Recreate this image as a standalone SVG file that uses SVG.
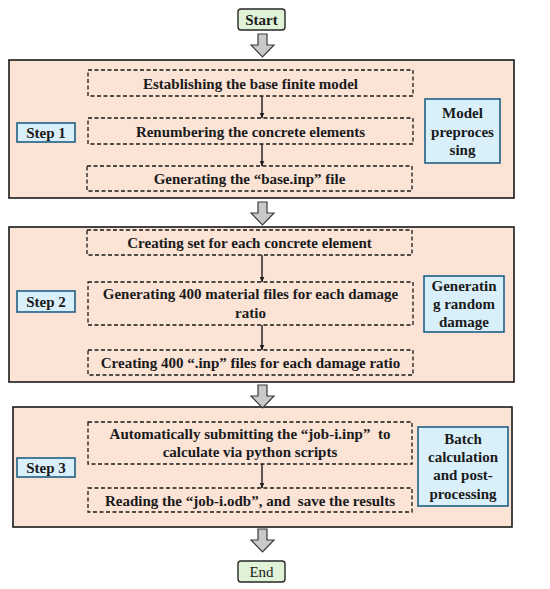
<svg xmlns="http://www.w3.org/2000/svg" width="550" height="589" viewBox="0 0 550 589">
<defs>
<style>
.panel{fill:#fbe3d6;stroke:#1a1a1a;stroke-width:1.6}
.dash{fill:none;stroke:#1a1a1a;stroke-width:1.3;stroke-dasharray:4,2.5}
.lbl{fill:#d9f0fb;stroke:#1f5f86;stroke-width:1.6}
.term{fill:#e0f2d8;stroke:#262626;stroke-width:1.4}
.big{fill:#c9c9c9;stroke:#3a3a3a;stroke-width:1.2}
.t{font-family:"Liberation Serif","Times New Roman",serif;font-weight:bold;font-size:15px;fill:#1a1a1a;text-anchor:middle;white-space:pre}
.tn{font-family:"Liberation Serif","Times New Roman",serif;font-size:15px;fill:#1a1a1a;text-anchor:middle}
.con{stroke:#1a1a1a;stroke-width:1.4;fill:none}
</style>
<marker id="ah" viewBox="0 0 10 10" refX="9" refY="5" markerWidth="6" markerHeight="6" orient="auto" markerUnits="userSpaceOnUse">
<path d="M0,1 L10,5 L0,9 z" fill="#1a1a1a"/>
</marker>
<path id="blk" d="M-4.5,0 L4.5,0 L4.5,11 L11.5,11 L0,23 L-11.5,11 L-4.5,11 z"/>
</defs>
<g id="panel1"><rect class="panel" x="9" y="60" width="505" height="138"/></g>
<g id="panel2"><rect class="panel" x="9" y="227" width="505" height="155"/></g>
<g id="panel3"><rect class="panel" x="13" y="407" width="499" height="120"/></g>

<g id="start"><rect class="term" x="238" y="9" width="47" height="21" rx="3"/><text class="t" x="261.5" y="25">Start</text></g>
<g id="end"><rect class="term" x="238" y="561" width="47" height="21" rx="3"/><text class="tn" x="261.5" y="577">End</text></g>

<g id="connectors">
<use href="#blk" class="big" x="262.5" y="34"/>
<use href="#blk" class="big" x="262.5" y="202"/>
<use href="#blk" class="big" x="262.5" y="385"/>
<use href="#blk" class="big" x="262.5" y="529"/>
<line class="con" x1="262" y1="96" x2="262" y2="118" marker-end="url(#ah)"/>
<line class="con" x1="262" y1="144" x2="262" y2="166" marker-end="url(#ah)"/>
<line class="con" x1="262" y1="255" x2="262" y2="282" marker-end="url(#ah)"/>
<line class="con" x1="262" y1="325" x2="262" y2="350" marker-end="url(#ah)"/>
<line class="con" x1="262" y1="464" x2="262" y2="488" marker-end="url(#ah)"/>
</g>

<g id="s1a"><rect class="dash" x="88" y="70" width="325" height="26"/><text class="t" x="250.5" y="88.5">Establishing the base finite model</text></g>
<g id="s1b"><rect class="dash" x="88" y="118" width="325" height="26"/><text class="t" x="250.5" y="136.5">Renumbering the concrete elements</text></g>
<g id="s1c"><rect class="dash" x="87" y="166" width="325" height="25"/><text class="t" x="249.5" y="184">Generating the “base.inp” file</text></g>
<g id="step1"><rect class="lbl" x="17" y="123" width="58" height="19"/><text class="t" x="46" y="138">Step 1</text></g>
<g id="pre"><rect class="lbl" x="425" y="99" width="75" height="64"/><text class="t" x="462.5" y="118">Model</text><text class="t" x="462.5" y="136.5">preproces</text><text class="t" x="462.5" y="155">sing</text></g>

<g id="s2a"><rect class="dash" x="87" y="230" width="325" height="25"/><text class="t" x="249.5" y="248">Creating set for each concrete element</text></g>
<g id="s2b"><rect class="dash" x="88" y="282" width="325" height="43"/><text class="t" x="250.5" y="299">Generating 400 material files for each damage</text><text class="t" x="250.5" y="318">ratio</text></g>
<g id="s2c"><rect class="dash" x="88" y="350" width="325" height="25"/><text class="t" x="250.5" y="368">Creating 400 “.inp” files for each damage ratio</text></g>
<g id="step2"><rect class="lbl" x="17" y="291" width="58" height="21"/><text class="t" x="46" y="307">Step 2</text></g>
<g id="gen"><rect class="lbl" x="424" y="276" width="80" height="56"/><text class="t" x="464" y="291">Generatin</text><text class="t" x="464" y="309">g random</text><text class="t" x="464" y="327">damage</text></g>

<g id="s3a"><rect class="dash" x="88" y="422" width="324" height="42"/><text class="t" x="250" y="439">Automatically submitting the “job-i.inp”  to</text><text class="t" x="250" y="457">calculate via python scripts</text></g>
<g id="s3b"><rect class="dash" x="88" y="488" width="324" height="24"/><text class="t" x="250" y="506">Reading the “job-i.odb”, and  save the results</text></g>
<g id="step3"><rect class="lbl" x="17" y="458" width="58" height="19"/><text class="t" x="46" y="473">Step 3</text></g>
<g id="batch"><rect class="lbl" x="418" y="427" width="90" height="79"/><text class="t" x="463" y="444">Batch</text><text class="t" x="463" y="462">calculation</text><text class="t" x="463" y="480">and post-</text><text class="t" x="463" y="499">processing</text></g>
</svg>
